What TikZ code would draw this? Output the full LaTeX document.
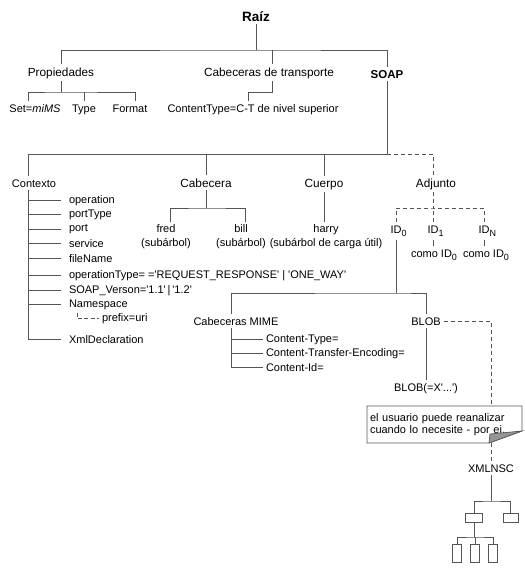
\documentclass[tikz,border=0pt]{standalone}
\usepackage{fontspec}
\setmainfont{Liberation Sans}
\usetikzlibrary{positioning}

\definecolor{treegray}{RGB}{85,85,85}
\definecolor{foldgray}{RGB}{150,150,150}
\newcommand{\qs}{\textquotesingle}
\newcommand{\idsub}[1]{\raisebox{-3.5pt}{\fontsize{9}{9}\selectfont #1}}

\tikzset{
  lbl/.style={inner sep=0pt, outer sep=3pt, anchor=base, font=\fontsize{11}{13}\selectfont},
  seclbl/.style={lbl, font=\fontsize{11.8}{14}\selectfont},
  lbll/.style={lbl, anchor=base west},
  item/.style={lbll, outer sep=8pt},
  multi/.style={lbl, anchor=north, align=center, font=\fontsize{11}{14}\selectfont},
  boldlbl/.style={lbl, font=\fontsize{11.5}{13}\selectfont\bfseries},
  tree/.style={draw=treegray, line width=0.9pt},
  dtree/.style={tree, dash pattern=on 4pt off 3pt},
  leafbox/.style={draw=treegray, line width=0.9pt, inner sep=0pt, outer sep=0pt},
}

\begin{document}
\begin{tikzpicture}[x=1pt,y=-1pt]
\useasboundingbox (0,0) rectangle (525,571);

% raiz y primer nivel
\node[lbl, font=\fontsize{13.5}{16}\selectfont\bfseries] (raiz) at (256,21) {Raíz};
\node[seclbl] (prop) at (61,76) {Propiedades};
\node[seclbl] (transp) at (269,76) {Cabeceras de transporte};
\node[boldlbl] (soap) at (387,78) {SOAP};

\coordinate (b1) at (256,50);
\draw[tree] (raiz) -- (b1);
\draw[tree] (prop) |- (b1) -| (soap);
\draw[tree] ([xshift=3pt]transp.north) -- ([xshift=3pt]transp.north |- b1);

% propiedades
\node[lbl] (setmims) at (35,112) {Set=\textit{miMS}};
\node[lbl] (type) at (84,112) {Type};
\node[lbl] (format) at (130,112) {Format};
\node[lbl] (ctype) at (253,112) {ContentType=C-T de nivel superior};

\coordinate (b2) at (61,92);
\draw[tree] (prop) -- (b2);
\draw[tree] ([xshift=-7pt]setmims.north) |- (b2) -| ([xshift=5pt]format.north);
\draw[tree] (type) -- (type |- b2);
\draw[tree] ([xshift=3pt]transp.south) -- ([xshift=3pt]transp.south |- b2) -| ([xshift=-5pt]ctype.north);

% SOAP
\node[lbl] (contexto) at (34,187) {Contexto};
\node[seclbl] (cabecera) at (206,187) {Cabecera};
\node[seclbl] (cuerpo) at (324,187) {Cuerpo};
\node[seclbl] (adjunto) at (436,187) {Adjunto};

\coordinate (b4) at (387,154);
\coordinate (ctxline) at ([xshift=-6pt]contexto.south);
\draw[tree] (soap) -- (b4);
\draw[tree] ([xshift=-6pt]contexto.north) |- (b4);
\draw[tree] (cabecera) -- (cabecera |- b4);
\draw[tree] (cuerpo) -- (cuerpo |- b4);
\draw[dtree] (b4) -| ([xshift=-3pt]adjunto.north);

% contexto
\node[item] (op) at (61,203) {operation};
\node[item] (ptype) at (61,217.5) {portType};
\node[item] (port) at (61,231.5) {port};
\node[item] (service) at (61,247) {service};
\node[item] (fname) at (61,262) {fileName};
\node[item] (optype) at (61,278.5) {operationType= =\qs REQUEST\_RESPONSE\qs\ \textbar\ \qs ONE\_WAY\qs};
\node[item] (soapver) at (61,293.5) {SOAP\_Verson=\qs1.1\qs\,\textbar\,\qs1.2\qs};
\node[item] (ns) at (61,307.5) {Namespace};
\node[lbll] (prefix) at (99,321) {prefix=uri};
\node[item] (xmldecl) at (61,343) {XmlDeclaration};

\draw[tree] (ctxline) |- (xmldecl.west);
\draw[tree] (op.west) -- (op.west -| ctxline);
\draw[tree] (ptype.west) -- (ptype.west -| ctxline);
\draw[tree] (port.west) -- (port.west -| ctxline);
\draw[tree] (service.west) -- (service.west -| ctxline);
\draw[tree] (fname.west) -- (fname.west -| ctxline);
\draw[tree] (optype.west) -- (optype.west -| ctxline);
\draw[tree] (soapver.west) -- (soapver.west -| ctxline);
\draw[tree] (ns.west) -- (ns.west -| ctxline);
\draw[tree, dash pattern=on 4pt off 2.5pt, line width=0.7pt] ([xshift=16pt,yshift=-5pt]ns.base west) |- (prefix.west);

% cabecera y cuerpo
\node[multi] (fred) at (166,222) {fred\\(subárbol)};
\node[multi] (bill) at (241,222) {bill\\(subárbol)};
\node[multi] (harry) at (326,222) {harry\\(subárbol de carga útil)};

\coordinate (b5) at (206,208);
\draw[tree] (cabecera) -- (b5);
\draw[tree] ([xshift=4pt]fred.north) |- (b5) -| ([xshift=4pt]bill.north);
\draw[tree] (cuerpo) -- (cuerpo |- harry.north);

% adjunto
\node[lbl] (id0) at (396,233) {ID\rlap{\idsub{0}}};
\node[lbl] (id1) at (433,233) {ID\rlap{\idsub{1}}};
\node[lbl] (idn) at (484,233) {ID\rlap{\idsub{N}}};
\node[lbl] (como1) at (434,257) {como ID\idsub{0}};
\node[lbl] (como2) at (486,257) {como ID\idsub{0}};

\coordinate (b6) at (433,208);
\draw[dtree] ([xshift=-3pt]adjunto.south) -- (b6);
\draw[dtree] (id0) |- (b6) -| (idn);
\draw[dtree] (id1) -- (id1 |- b6);
\draw[tree] (id1) -- (id1 |- como1.north);
\draw[tree] (idn) -- (idn |- como2.north);

% ID0
\node[lbl] (mime) at (236,325) {Cabeceras MIME};
\node[lbl] (blob) at (426,325) {BLOB};
\node[lbll] (cty) at (263,342) {Content-Type=};
\node[lbll] (cte) at (263,356) {Content-Transfer-Encoding=};
\node[lbll] (cid) at (263,371) {Content-Id=};
\node[lbl] (blobx) at (426,391) {BLOB(=X\qs...\qs)};

\coordinate (b7) at (396,293);
\coordinate (b8) at ([xshift=-5pt]mime.south);
\draw[tree] (id0) -- (b7);
\draw[tree] ([xshift=-5pt]mime.north) |- (b7) -| (blob);
\draw[tree] (b8) |- (cid.west);
\draw[tree] (cty.west) -- (cty.west -| b8);
\draw[tree] (cte.west) -- (cte.west -| b8);
\draw[tree] (blob) -- (blobx);

% nota
\node[lbll, anchor=north west, outer sep=0pt, inner sep=3pt, minimum width=155pt, minimum height=37pt,
      text width=149pt, align=left, font=\fontsize{11}{12.5}\selectfont] (note) at (367,406)
      {el usuario puede reanalizar\\cuando lo necesite - por ej.};
\draw[draw=treegray, line width=0.7pt] (note.north west) -- (note.north east) -- ([yshift=12pt]note.south east)
      -- ([xshift=-33pt]note.south east) -- (note.south west) -- cycle;
\draw[draw=treegray, line width=0.7pt, fill=foldgray] ([xshift=-33pt]note.south east)
      -- ([xshift=-32pt,yshift=9pt]note.south east) -- ([yshift=12pt]note.south east) -- cycle;

\node[lbl] (xmlnsc) at (491,472) {XMLNSC};
\draw[dtree] (blob) -| (note.north -| xmlnsc);
\draw[dtree] (note.south -| xmlnsc) -- (xmlnsc);

% arbol XMLNSC
\node[leafbox, minimum width=17pt, minimum height=9pt] (t1) at (474,517.5) {};
\node[leafbox, minimum width=15pt, minimum height=9pt] (t2) at (510.5,517.5) {};
\node[leafbox, minimum width=9pt, minimum height=18pt] (l1) at (457,553) {};
\node[leafbox, minimum width=9pt, minimum height=18pt] (l2) at (475,553) {};
\node[leafbox, minimum width=9pt, minimum height=18pt] (l3) at (493,553) {};

\coordinate (b9) at (491,501);
\coordinate (b10) at (475,537);
\draw[tree] (xmlnsc) -- (b9);
\draw[tree] (t1) |- (b9) -| (t2);
\draw[tree] (t1) -- (t1 |- b10);
\draw[tree] (l1) |- (b10) -| (l3);
\draw[tree] (l2) -- (b10);

\end{tikzpicture}
\end{document}
